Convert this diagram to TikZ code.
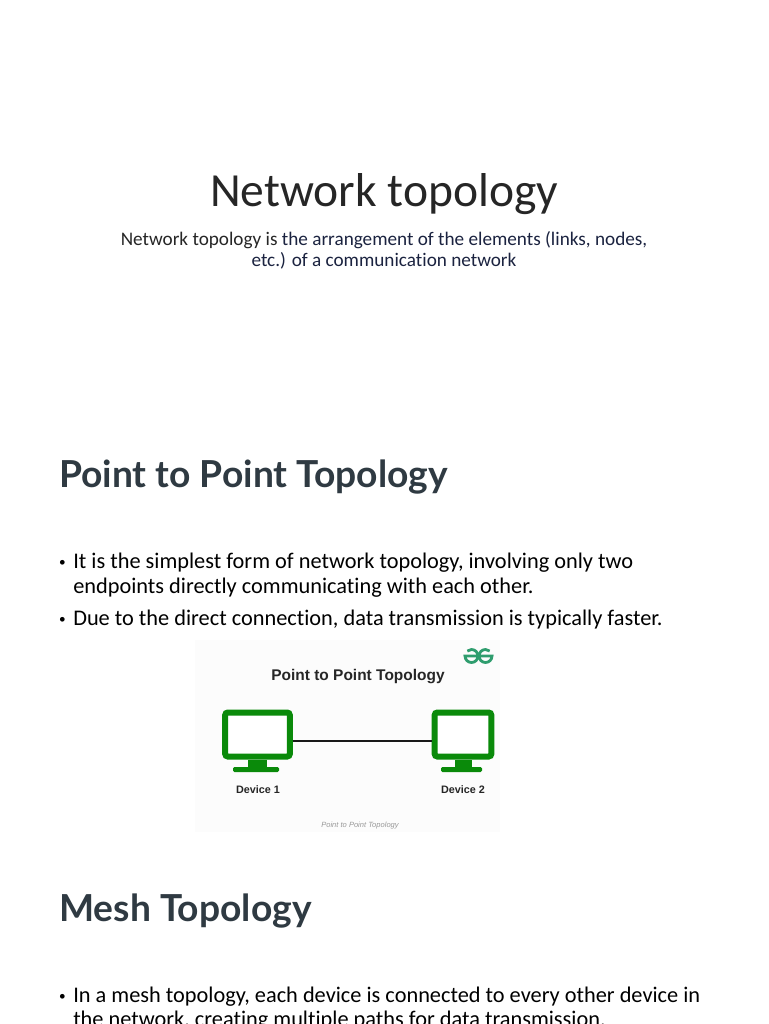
\documentclass[tikz,border=0pt]{standalone}
\usepackage{fontspec}
\setmainfont[Ligatures=NoCommon]{Carlito}
\newfontfamily\headfont{Lato}
\newfontfamily\figfont{Liberation Sans}
\definecolor{inkdark}{HTML}{262626}
\definecolor{inknavy}{HTML}{1B2340}
\definecolor{headink}{HTML}{2F3A42}
\definecolor{monitorgreen}{HTML}{0A8A0A}
\definecolor{gfggreen}{HTML}{2F9D6E}
\definecolor{figbg}{HTML}{FCFCFC}
\tikzset{
  x=0.75pt,y=-0.75pt,
  lefttext/.style={anchor=base west,inner sep=0pt,font=\fontsize{16.75pt}{18pt}\selectfont,text=black},
  bulletmark/.style={anchor=base west,inner sep=0pt,font=\figfont\fontsize{13pt}{16pt}\selectfont,text=black},
  heading/.style={anchor=base west,inner sep=0pt,font=\headfont\bfseries\fontsize{27.9pt}{30pt}\selectfont,text=headink},
  sub/.style={anchor=base,inner sep=0pt,font=\fontsize{14.4pt}{16pt}\selectfont,text=inkdark},
  monitor/.style={rectangle,draw=monitorgreen,line width=4.5pt,rounded corners=2pt,fill=white,inner sep=0pt},
  standpart/.style={fill=monitorgreen,draw=none},
  devlabel/.style={anchor=base,inner sep=0pt,font=\figfont\bfseries\fontsize{8.1pt}{9pt}\selectfont,text=inkdark}
}
\begin{document}
\begin{tikzpicture}
\useasboundingbox (0,0) rectangle (768,1024);
\fill[white] (0,0) rectangle (768,1024);
\node[anchor=base,inner sep=0pt,font=\fontsize{35.65pt}{40pt}\selectfont,text=inkdark] (title) at (384,206) {Network topology};
\node[sub] (sub1) at (384,245) {Network topology is \textcolor{inknavy}{the arrangement of the elements (links, nodes,}};
\node[sub] (sub2) at (384,266) {\textcolor{inknavy}{etc.) of a communication network}};
\node[heading] (h1) at (59,487) {Point to Point Topology};
\node[bulletmark] (b1) at (59,568) {•};
\node[lefttext] (t1) at (73,568) {It is the simplest form of network topology, involving only two};
\node[lefttext] (t1b) at (73,593) {endpoints directly communicating with each other.};
\node[bulletmark] (b2) at (59,625) {•};
\node[lefttext] (t2) at (73,625) {Due to the direct connection, data transmission is typically faster.};
\fill[figbg] (195,640) rectangle (500,832);
\node[anchor=base,inner sep=0pt,font=\figfont\bfseries\fontsize{11.6pt}{13pt}\selectfont,text=inkdark] (figtitle) at (358,680) {Point to Point Topology};
% logo
\draw[gfggreen,line width=2.1pt] (478.5,656) -- (465,656) arc[start angle=180,end angle=-130,radius=6.5] ;
\draw[gfggreen,line width=2.1pt] (478.5,656) -- (492,656) arc[start angle=0,end angle=310,radius=6.5];
% devices
\node[monitor,minimum width=48.5pt,minimum height=33pt] (dev1) at (257.5,734.5) {};
\node[monitor,minimum width=42.5pt,minimum height=33pt] (dev2) at (463,734.5) {};
\draw[black!90,line width=2pt] ([yshift=-4.9pt]dev1.east) -- ([yshift=-4.9pt]dev2.west);
\fill[standpart] (248,760) rectangle (267,768);
\fill[standpart,rounded corners=1pt] (233,767) rectangle (279,772);
\fill[standpart] (455,760) rectangle (472,768);
\fill[standpart,rounded corners=1pt] (441,767) rectangle (482,772);
\node[devlabel] (d1) at (258,793) {Device 1};
\node[devlabel] (d2) at (463,793) {Device 2};
\node[anchor=base,inner sep=0pt,font=\figfont\itshape\fontsize{5.66pt}{6pt}\selectfont,text=gray!80] (cap) at (360,827) {Point to Point Topology};
\node[heading] (h2) at (59,921) {Mesh Topology};
\node[bulletmark] (b3) at (59,1002) {•};
\node[lefttext] (t3) at (73,1002) {In a mesh topology, each device is connected to every other device in};
\node[lefttext] (t3b) at (73,1026) {the network, creating multiple paths for data transmission.};
\end{tikzpicture}
\end{document}
